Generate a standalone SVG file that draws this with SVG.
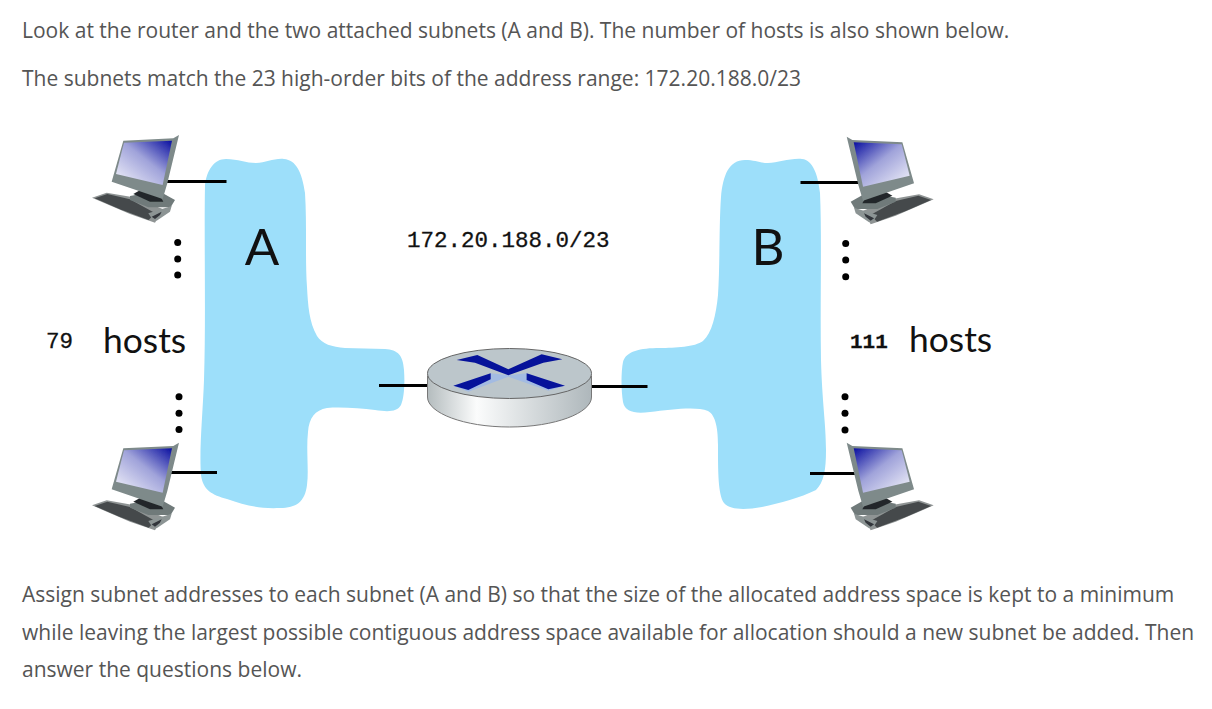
<svg xmlns="http://www.w3.org/2000/svg" width="1212" height="709" viewBox="0 0 1212 709">
<style>
.body{font-family:"Open Sans","Liberation Sans",sans-serif;font-size:21px;fill:#555}
.big{font-family:Lato,"Liberation Sans",sans-serif;fill:#111}
.mono{font-family:"Liberation Mono",monospace;fill:#111;stroke:#111;stroke-width:.3}
.blob{fill:#9ddffa}
.wire{stroke:#000;stroke-width:3;fill:none}
.dot{fill:#000}
</style>
<defs>
<linearGradient id="screen" x1="1" y1="0" x2="0" y2="1"><stop offset="0" stop-color="#0a0fa0"/><stop offset=".45" stop-color="#a0a3da"/><stop offset="1" stop-color="#f4f4fb"/></linearGradient>
<linearGradient id="side" x1="0" y1="0" x2="1" y2="0"><stop offset="0" stop-color="#b4bcbe"/><stop offset=".3" stop-color="#fbfcfc"/><stop offset="1" stop-color="#aeb7bb"/></linearGradient>
<filter id="soft" x="-5%" y="-5%" width="110%" height="110%"><feGaussianBlur stdDeviation="1.5"/></filter>
<g id="pc" transform="translate(80 120) scale(.3333)" filter="url(#soft)">
<path d="M36 233 80 218 160 232 250 268 225 308 150 282Z" fill="#8f9494"/>
<path d="M44 235 82 222 150 238 226 280 206 300 120 268Z" fill="#45494b"/>
<path d="M150 228 235 212 285 240 272 262 205 262 150 240Z" fill="#6f7a7a"/>
<path d="M160 222 190 205 235 218 250 245 210 245Z" fill="#23282a"/>
<path d="M130 62 280 55 297 45 262 190 248 237 95 185Z" fill="#7e8a8a"/>
<path d="M132 68 276 62 248 195 108 162Z" fill="url(#screen)"/>
<path d="M205 280 275 258 270 275 230 302 215 295Z" fill="#8c9494"/>
<path d="M215 290 245 275 240 285 225 297Z" fill="#30343a"/>
</g>
</defs>

<rect width="1212" height="709" fill="#fff"/>

<g id="intro">
<text class="body" x="22" y="38">Look at the router and the two attached subnets (A and B). The number of hosts is also shown below.</text>
<text class="body" x="22" y="86">The subnets match the 23 high-order bits of the address range: 172.20.188.0/23</text>
</g>

<g id="subnet-A">
<path class="blob" d="M205 185C207 170 214 159 226 159C238 159 246 163 256 163C266 163 274 158 284 159C296 160 302 172 305 193C307 225 305 260 307 287C308 305 309 322 317 336C322 344 332 347 345 348L385 349C398 350 403 355 404 370C405 385 404 398 401 405C397 412 388 412 375 410C360 408 340 407 327 408C315 410 309 418 308 432C306 450 309 470 307 485C305 502 296 508 280 508C258 509 245 505 227 499C212 495 203 490 201 475C199 450 203 410 204 380C206 320 204 240 205 185Z"/>
<text class="big" x="262" y="265" font-size="51" text-anchor="middle">A</text>
</g>

<g id="subnet-B">
<path class="blob" d="M721 197C723 175 729 160 745 160C755 160 760 163 768 163C778 163 790 158 802 159C813 160 818 175 820 193C822 240 820 300 821 360C822 400 826 425 826 450C826 470 824 482 816 490C800 498 780 503 762 507C745 510 730 510 724 503C718 495 718 470 718 445C718 430 716 415 708 411C695 406 670 410 650 412C635 414 625 412 623 402C621 390 621 372 623 362C626 351 640 348 660 348C675 348 695 347 703 341C712 333 716 315 718 295C720 265 719 225 721 197Z"/>
<text class="big" x="768" y="265" font-size="51" text-anchor="middle">B</text>
</g>

<g id="connectors">
<path class="wire" d="M167 181.5H226.500"/>
<path class="wire" d="M171 472.500H217"/>
<path class="wire" d="M379 385.500H428"/>
<path class="wire" d="M591 386.500H647.500"/>
<path class="wire" d="M800.500 182.500H858"/>
<path class="wire" d="M810 473.500H856"/>
</g>

<g id="host-A-top"><use href="#pc"/></g>
<g id="host-A-bottom"><use href="#pc" transform="translate(0 307.700)"/></g>
<g id="host-B-top"><use href="#pc" transform="translate(1025.700 1.700) scale(-1 1)"/></g>
<g id="host-B-bottom"><use href="#pc" transform="translate(1025.700 307.700) scale(-1 1)"/></g>

<g id="dots-A-top"><circle class="dot" cx="177.700" cy="242.500" r="3.500"/><circle class="dot" cx="177.700" cy="259" r="3.500"/><circle class="dot" cx="177.700" cy="275" r="3.500"/></g>
<g id="dots-A-bottom"><circle class="dot" cx="179" cy="396.700" r="3.500"/><circle class="dot" cx="179" cy="413.300" r="3.500"/><circle class="dot" cx="179" cy="429.500" r="3.500"/></g>
<g id="dots-B-top"><circle class="dot" cx="845.700" cy="243.500" r="3.500"/><circle class="dot" cx="845.700" cy="260" r="3.500"/><circle class="dot" cx="845.700" cy="276.700" r="3.500"/></g>
<g id="dots-B-bottom"><circle class="dot" cx="845" cy="396.700" r="3.500"/><circle class="dot" cx="845" cy="413.300" r="3.500"/><circle class="dot" cx="845" cy="430" r="3.500"/></g>

<g id="router">
<path d="M427.500 376V397C427.500 413 464 427 509.500 427C555 427 591.500 413 591.500 397V376Z" fill="url(#side)" stroke="#777" stroke-width="1"/>
<ellipse cx="509.500" cy="373.500" rx="82" ry="25" fill="#bcc6cb" stroke="#666" stroke-width="1"/>
<g transform="translate(400 220) scale(.3333)">
<path d="M160 497 272 460 325 466 380 460 495 497 445 512 325 470 205 515Z" fill="#a3bbe2"/>
<path d="M170 420 232 405 325 448 425 403 487 418 430 428 325 466 225 428Z" fill="#06129a"/>
<path d="M160 497 272 460 272 478 205 510Z" fill="#06129a"/>
<path d="M380 460 495 497 445 508 380 480Z" fill="#06129a"/>
</g>
</g>

<g id="labels">
<text class="mono" x="407" y="246.500" font-size="22.500">172.20.188.0/23</text>
<text class="mono" x="46" y="347.500" font-size="22.500">79</text>
<text class="big" x="103" y="353" font-size="35.400">hosts</text>
<text class="mono" x="850" y="347.500" font-size="21" font-weight="700">111</text>
<text class="big" x="909" y="352" font-size="35.400">hosts</text>
</g>

<g id="question">
<text class="body" x="22" y="602">Assign subnet addresses to each subnet (A and B) so that the size of the allocated address space is kept to a minimum</text>
<text class="body" x="22" y="639.500">while leaving the largest possible contiguous address space available for allocation should a new subnet be added. Then</text>
<text class="body" x="22" y="677">answer the questions below.</text>
</g>
</svg>
